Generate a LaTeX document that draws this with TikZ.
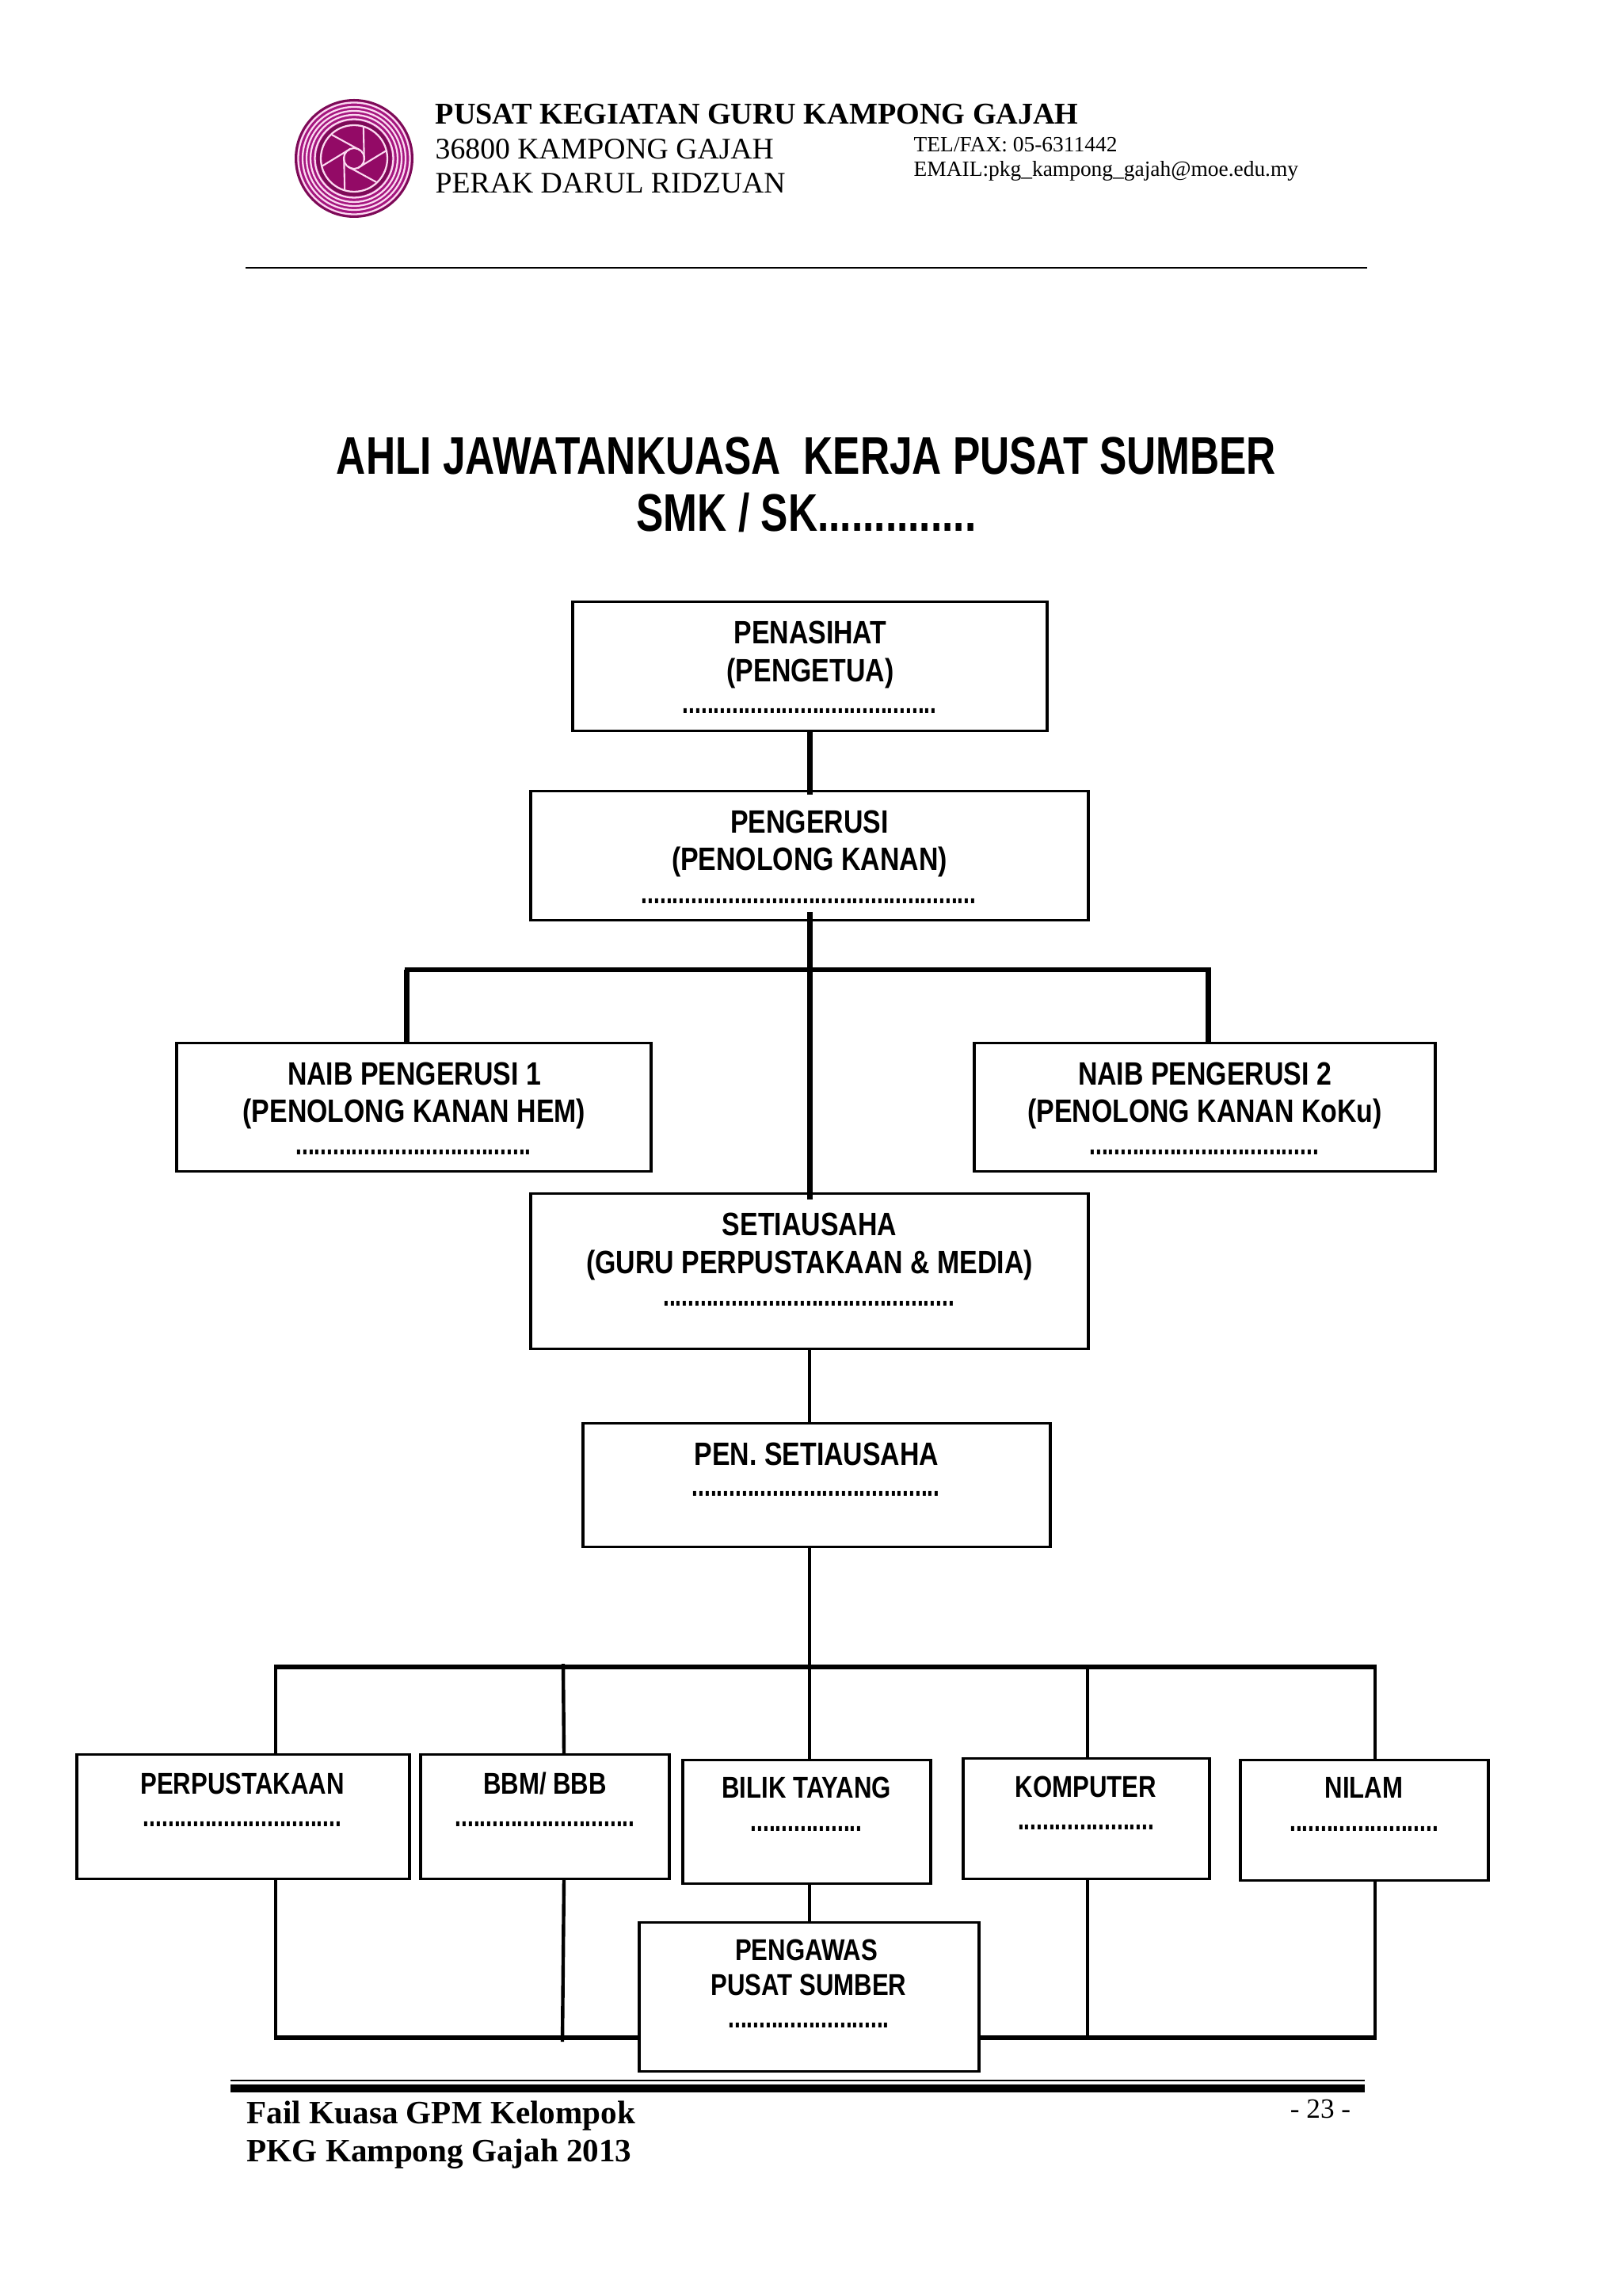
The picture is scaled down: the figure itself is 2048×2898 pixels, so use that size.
\documentclass[tikz,border=0pt]{standalone}
\usepackage{fontspec}
\setmainfont{Liberation Serif}
\newfontfamily\labf[FakeStretch=0.83]{Liberation Sans}
\newfontfamily\labsf[FakeStretch=0.82]{Liberation Sans}
\newfontfamily\dotf[FakeStretch=0.69]{Liberation Sans}
\newfontfamily\titf[FakeStretch=0.77]{Liberation Sans}
\definecolor{logop}{HTML}{930A66}
\definecolor{logom}{HTML}{A5167F}
\definecolor{logod}{HTML}{7D0A57}
\definecolor{logor}{HTML}{FBD9F0}
\tikzset{
  x=0.01cm,y=-0.01cm,
  box/.style={draw=black,line width=1pt,fill=white,rectangle,inner sep=0pt},
  lab/.style={anchor=base,inner sep=0pt,font=\labf\bfseries\fontsize{11.6}{14}\selectfont},
  labs/.style={anchor=base,inner sep=0pt,font=\labsf\bfseries\fontsize{10.8}{13}\selectfont},
  dotr/.style={anchor=base,inner sep=0pt,font=\dotf\bfseries\fontsize{11.6}{14}\selectfont},
  titl/.style={anchor=base,inner sep=0pt,font=\titf\bfseries\fontsize{19}{23}\selectfont},
  headb/.style={anchor=base west,inner sep=0pt,font=\bfseries\fontsize{10.85}{14}\selectfont},
  headr/.style={anchor=base west,inner sep=0pt,font=\fontsize{10.72}{14}\selectfont},
  heads/.style={anchor=base west,inner sep=0pt,font=\fontsize{7.8}{10}\selectfont},
  foot/.style={anchor=base west,inner sep=0pt,font=\bfseries\fontsize{11.7}{14}\selectfont},
  thick1/.style={line width=2pt},
  thin1/.style={line width=1.25pt},
}
\newcommand{\bx}[5]{\node[box,minimum width=#4*0.01cm-#2*0.01cm,minimum height=#5*0.01cm-#3*0.01cm] (#1) at ({(#2+#4)/2+1},{(#3+#5)/2+0.5}) {};}
\begin{document}
\begin{tikzpicture}
\useasboundingbox (0,0) rectangle (2048,2898);
\fill[white] (0,0) rectangle (2048,2898);
% logo
\begin{scope}[shift={(447,200)}]
  \fill[logod] (0,0) circle[radius=75];
  \fill[logom] (0,0) circle[radius=72];
  \foreach \r in {70.5,65,60,55,49.5}{\draw[logor,line width=0.65pt] (0,0) circle[radius=\r];}
  \fill[logod] (0,0) circle[radius=47.5];
  \fill[logop] (0,0) circle[radius=42];
  \draw[logor,line width=0.65pt] (0,0) circle[radius=42];
  \foreach \a in {0,60,120,180,240,300}{
    \begin{scope}[rotate=\a]
      \draw[logor,line width=0.6pt] (-28.3,-30) -- (8.3,-10);
    \end{scope}}
  \draw[logor,line width=0.6pt] (0,0) circle[radius=13];
\end{scope}
% header
\node[headb] (h1) at (549,157) {PUSAT KEGIATAN GURU KAMPONG GAJAH};
\node[headr] (h2) at (549,201) {36800 KAMPONG GAJAH};
\node[headr] (h3) at (549,244) {PERAK DARUL RIDZUAN};
\node[heads] (h4) at (1153,192) {TEL/FAX: 05-6311442};
\node[heads] (h5) at (1153,223) {EMAIL:pkg\_kampong\_gajah@moe.edu.my};
\coordinate (hrL) at (310,338); \coordinate (hrR) at (1726,338);
\draw[line width=0.8pt] (hrL) -- (hrR);
% title
\node[titl] (t1) at (1018,599) {AHLI JAWATANKUASA~ KERJA PUSAT SUMBER};
\node[titl] (t2) at (1018,671) {SMK / SK..............};
% boxes
\bx{pen}{722}{759}{1321}{922}
\bx{ger}{669}{998}{1373}{1161}
\bx{nb1}{222}{1316}{821}{1478}
\bx{nb2}{1229}{1316}{1811}{1478}
\bx{set}{669}{1506}{1373}{1702}
\bx{psu}{735}{1796}{1325}{1952}
\bx{per}{96}{2214}{516}{2371}
\bx{bbm}{530}{2214}{844}{2371}
\bx{bil}{861}{2221}{1174}{2377}
\bx{kom}{1215}{2219}{1526}{2371}
\bx{nil}{1565}{2221}{1878}{2373}
\bx{pgw}{806}{2426}{1235}{2614}
% coordinates
\coordinate (m) at (1022,1224);
\coordinate (busL) at (513.5,1224); \coordinate (busR) at (1525.5,1224);
\coordinate (b2M) at (1022,2104); \coordinate (b2L) at (348,2104); \coordinate (b2R) at (1736,2104);
\coordinate (b2K) at (1373,2104);
\coordinate (b3L) at (348,2572); \coordinate (b3R) at (1736,2572);
\coordinate (gerIn) at (1022,1151); \coordinate (setIn) at (1022,1514); \coordinate (gerTop) at (1022,1003);
\coordinate (bbmTop) at (712,2214); \coordinate (bbmBot) at (712,2371); \coordinate (bbmEnd) at (710,2577); \coordinate (b2Bup) at (711,2100);
\coordinate (komEnd) at (1373,2569);
% connectors
\draw[thick1] (pen.south -| m) -- (gerTop);
\draw[thick1] (gerIn) -- (setIn);
\draw[line width=1.9pt] ([xshift=-0.03cm]busL) -- ([xshift=0.03cm]busR);
\draw[thick1] (busL) -- (busL |- nb1.north);
\draw[thick1] (busR) -- (busR |- nb2.north);
\draw[thin1] (set.south -| m) -- (psu.north -| m);
\draw[thin1] (psu.south -| m) -- (b2M);
\draw[line width=1.7pt] ([xshift=-0.02cm]b2L) -- ([xshift=0.02cm]b2R);
\draw[thin1] (b2L) -- (b2L |- per.north);
\draw[thin1] (b2Bup) -- (bbmTop);
\draw[thin1] (b2M) -- (b2M |- bil.north);
\draw[thin1] (b2K) -- (b2K |- kom.north);
\draw[thin1] (b2R) -- (b2R |- nil.north);
\draw[thin1] (b3L |- per.south) -- (b3L);
\draw[thin1] (bbmBot) -- (bbmEnd);
\draw[thin1] (komEnd |- kom.south) -- (komEnd);
\draw[thin1] (b3R |- nil.south) -- (b3R);
\draw[thin1] (b2M |- bil.south) -- (b2M |- pgw.north);
\draw[line width=1.7pt] ([xshift=-0.02cm]b3L) -- (pgw.west |- b3L);
\draw[line width=1.7pt] (pgw.east |- b3R) -- ([xshift=0.02cm]b3R);
% texts
\node[lab] (a1) at (1023,813) {PENASIHAT};
\node[lab] (a2) at (1023,860) {(PENGETUA)};
\node[dotr] (a3) at (1022,900) {.........................................};
\node[lab] (b1) at (1022,1051) {PENGERUSI};
\node[lab] (b2) at (1022,1098) {(PENOLONG KANAN)};
\node[dotr] (b3) at (1021,1140) {......................................................};
\node[lab] (c1) at (523,1369) {NAIB PENGERUSI 1};
\node[lab] (c2) at (523,1416) {(PENOLONG KANAN HEM)};
\node[dotr] (c3) at (522,1457) {......................................};
\node[lab] (d1) at (1521,1369) {NAIB PENGERUSI 2};
\node[lab] (d2) at (1521,1416) {(PENOLONG KANAN KoKu)};
\node[dotr] (d3) at (1520,1457) {.....................................};
\node[lab] (e1) at (1022,1559) {SETIAUSAHA};
\node[lab] (e2) at (1022,1607) {(GURU PERPUSTAKAAN \& MEDIA)};
\node[dotr] (e3) at (1021,1648) {...............................................};
\node[lab] (f1) at (1031,1849) {PEN. SETIAUSAHA};
\node[dotr] (f2) at (1030,1888) {........................................};
\node[labs] (g1) at (306,2264) {PERPUSTAKAAN};
\node[dotr] (g2) at (306,2305) {................................};
\node[labs] (i1) at (688,2264) {BBM/ BBB};
\node[dotr] (i2) at (688,2305) {.............................};
\node[labs] (j1) at (1018,2269) {BILIK TAYANG};
\node[dotr] (j2) at (1018,2311) {..................};
\node[labs] (k1) at (1371,2268) {KOMPUTER};
\node[dotr] (k2) at (1371,2309) {......................};
\node[labs] (l1) at (1722,2269) {NILAM};
\node[dotr] (l2) at (1722,2311) {........................};
\node[labs] (n1) at (1018,2474) {PENGAWAS};
\node[labs] (n2) at (1021,2518) {PUSAT SUMBER};
\node[dotr] (n3) at (1021,2559) {..........................};
% footer
\coordinate (f1L) at (291,2626); \coordinate (f1R) at (1723,2626);
\coordinate (f2L) at (291,2636); \coordinate (f2R) at (1723,2636);
\draw[line width=0.6pt] (f1L) -- (f1R);
\draw[line width=2.9pt] (f2L) -- (f2R);
\node[foot] (o1) at (311,2680) {Fail Kuasa GPM Kelompok};
\node[foot] (o2) at (311,2728) {PKG Kampong Gajah 2013};
\node[anchor=base,inner sep=0pt,font=\fontsize{10}{12}\selectfont] (o3) at (1667,2673) {- 23 -};
\end{tikzpicture}
\end{document}
